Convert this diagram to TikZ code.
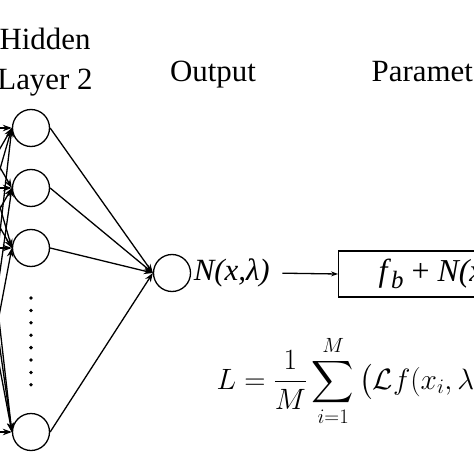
\RequirePackage{fix-cm}
\documentclass[tikz,border=0pt]{standalone}
\usepackage{amsmath,amssymb}
\usepackage{fontspec}
\setmainfont{Liberation Serif}
\usetikzlibrary{arrows.meta,positioning}

\begin{document}
\begin{tikzpicture}[x=1bp,y=-1bp,line width=1.3bp]
\tikzstyle{every node}+=[inner sep=0pt]
\tikzstyle{neuron}=[draw,circle,minimum size=37bp]
\tikzstyle{wire}=[-{Stealth[length=9bp,width=6.5bp]}]
\tikzstyle{heading}=[font=\fontsize{31}{36}\selectfont,anchor=base]
\useasboundingbox (0,0) rectangle (474,474);
\clip (0,0) rectangle (474,474);
\node [heading] (hid) at (45,50) {Hidden};
\node [heading] (lay) at (45,90) {Layer 2};
\node [heading] (outhead) at (213,82) {Output};
\node [heading,anchor=base west] (parhead) at (371,82) {Parameterized};
\foreach \n/\y in {1/128,2/188,3/248,4/432} {
  \node [neuron] (p\n) at (-42,\y) {};
  \node [neuron] (h\n) at (31,\y) {};
}
\foreach \i in {1,...,4}
  \foreach \j in {1,...,4}
    \draw [wire] (p\i.east) -- (h\j.west);
\node [neuron] (out) at (172,273) {};
\foreach \i in {1,...,4}
  \draw [wire] (h\i.east) -- (out.west);
\foreach \k in {0,...,7}
  \fill (31,298+12.4*\k) circle (1.9);
\node [right=2bp of out,font=\fontsize{31}{36}\selectfont\itshape] (nlab) {N(x,λ)};
\node [draw,anchor=west,minimum height=46bp,inner xsep=40bp,font=\fontsize{32}{36}\selectfont] (box) at (338,274)
  {\textit{f}\raisebox{-0.22em}{\fontsize{25}{28}\selectfont\itshape b} + \textit{N(x,λ)}};
\draw [-{Stealth[length=7bp,width=5bp]},shorten <=12bp] (nlab.east) -- (box.west);
\node [anchor=base west,font=\fontsize{29.5}{34}\selectfont] (loss) at (216,389)
  {$\displaystyle L=\frac{1}{M}\sum_{i=1}^{M}\,\bigl(\mathcal{L}f(x_i,\lambda)\bigr)$};
\end{tikzpicture}
\end{document}
